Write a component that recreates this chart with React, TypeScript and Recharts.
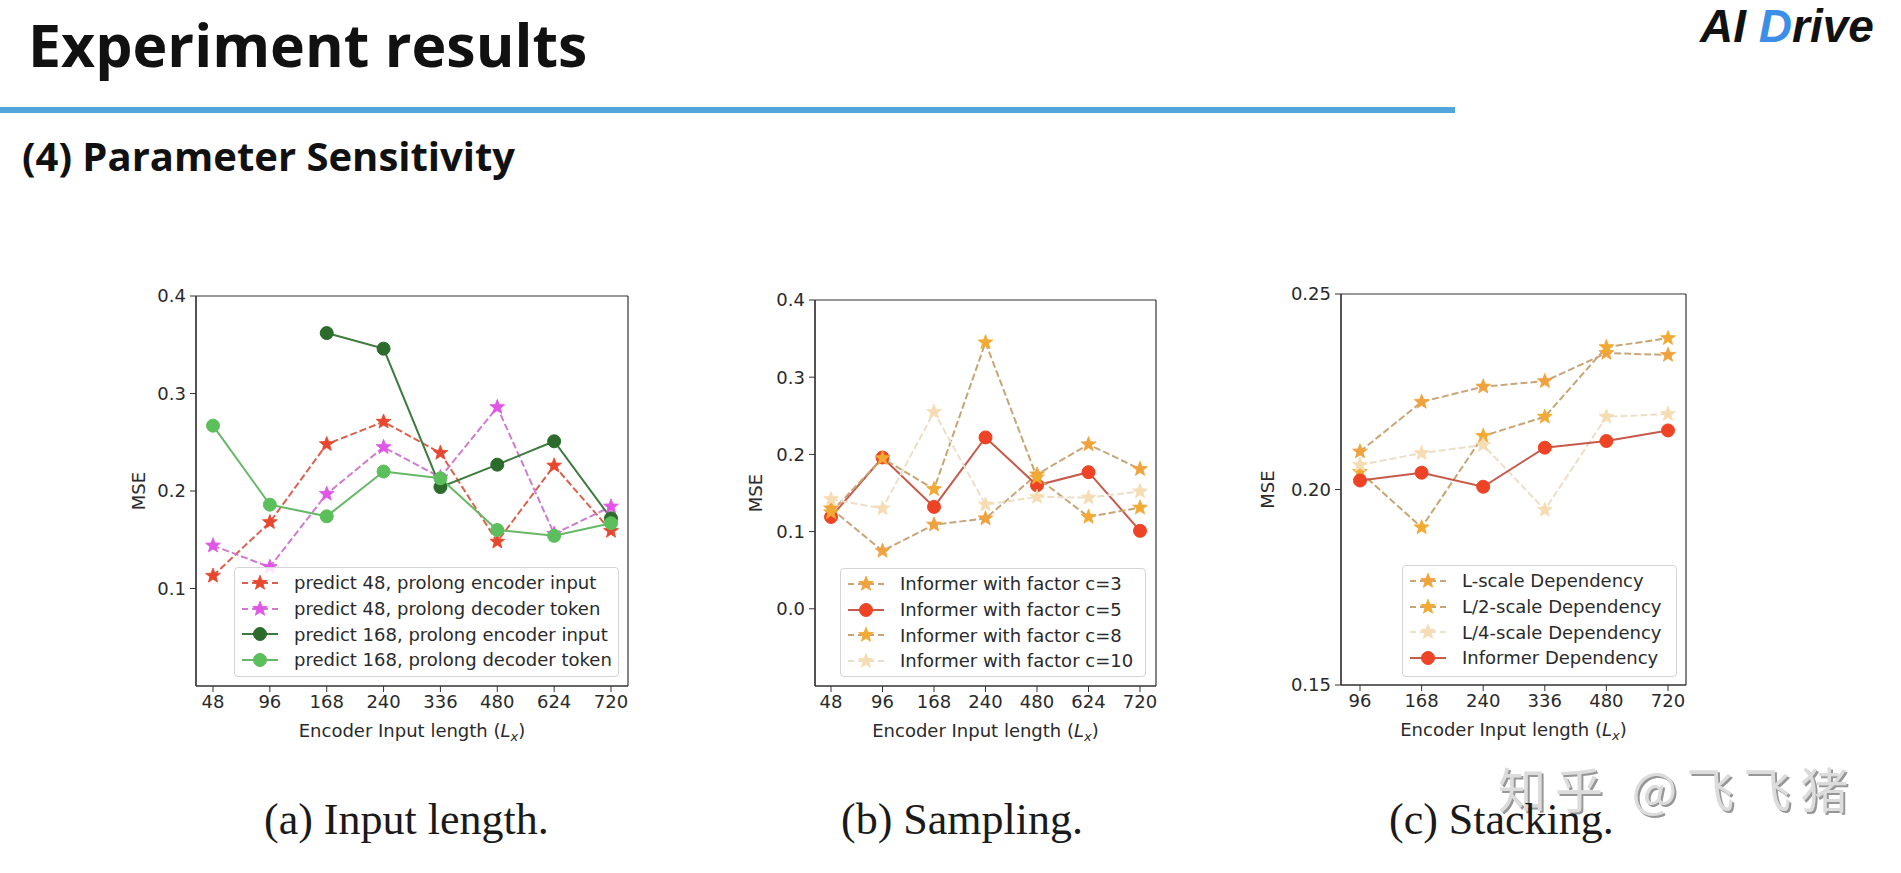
import { CartesianGrid, Legend, Line, LineChart, XAxis, YAxis } from "recharts"

// ---- (a) input length ----
const inputLengths = ["48", "96", "168", "240", "336", "480", "624", "720"]
const p48Encoder = [0.113, 0.168, 0.248, 0.271, 0.239, 0.148, 0.226, 0.159]
const p48Decoder = [0.144, 0.122, 0.197, 0.245, 0.214, 0.286, 0.156, 0.184]
const p168Encoder = [null, null, 0.362, 0.346, 0.204, 0.227, 0.251, 0.172]
const p168Decoder = [0.267, 0.186, 0.174, 0.22, 0.213, 0.16, 0.154, 0.167]
const inputTicks = [0.1, 0.2, 0.3, 0.4]

// ---- (b) sampling factor ----
const samplingLengths = ["48", "96", "168", "240", "480", "624", "720"]
const factor3 = [0.13, 0.075, 0.109, 0.117, 0.174, 0.213, 0.181]
const factor5 = [0.119, 0.196, 0.132, 0.222, 0.16, 0.177, 0.101]
const factor8 = [0.125, 0.195, 0.155, 0.345, 0.17, 0.119, 0.131]
const factor10 = [0.142, 0.13, 0.255, 0.135, 0.145, 0.144, 0.152]
const samplingTicks = [0, 0.1, 0.2, 0.3, 0.4]

// ---- (c) stacking ----
const stackLengths = ["96", "168", "240", "336", "480", "720"]
const lScale = [0.2097, 0.2224, 0.2263, 0.2277, 0.2349, 0.2344]
const l2Scale = [0.2045, 0.1903, 0.2137, 0.2186, 0.2364, 0.2387]
const l4Scale = [0.2063, 0.2093, 0.2114, 0.1948, 0.2186, 0.2193]
const informerDep = [0.2023, 0.2043, 0.2007, 0.2107, 0.2124, 0.2151]
const stackTicks = [0.15, 0.2, 0.25]

const FONT = "'DejaVu Sans', sans-serif"
const INK = "#2a2a2a"
const DASH = "7 3"
const X_AXIS_HEIGHT = 60

type Marker = "star" | "circle"

interface Series {
  key: string
  label: string
  values: (number | null)[]
  marker: Marker
  fill: string
  stroke: string
  dashed: boolean
}

const inputSeries: Series[] = [
  { key: "p48e", label: "predict 48, prolong encoder input", values: p48Encoder, marker: "star", fill: "#e8472f", stroke: "#dd604e", dashed: true },
  { key: "p48d", label: "predict 48, prolong decoder token", values: p48Decoder, marker: "star", fill: "#e055e6", stroke: "#cf7ccf", dashed: true },
  { key: "p168e", label: "predict 168, prolong encoder input", values: p168Encoder, marker: "circle", fill: "#2c6b2c", stroke: "#3d7a3d", dashed: false },
  { key: "p168d", label: "predict 168, prolong decoder token", values: p168Decoder, marker: "circle", fill: "#5bbf5b", stroke: "#66b866", dashed: false },
]

const samplingSeries: Series[] = [
  { key: "c3", label: "Informer with factor c=3", values: factor3, marker: "star", fill: "#f0a23c", stroke: "#c9a57a", dashed: true },
  { key: "c5", label: "Informer with factor c=5", values: factor5, marker: "circle", fill: "#ee4325", stroke: "#c85a4c", dashed: false },
  { key: "c8", label: "Informer with factor c=8", values: factor8, marker: "star", fill: "#f2aa32", stroke: "#c8a472", dashed: true },
  { key: "c10", label: "Informer with factor c=10", values: factor10, marker: "star", fill: "#f6dcb2", stroke: "#ecdfc8", dashed: true },
]

const stackSeries: Series[] = [
  { key: "l1", label: "L-scale Dependency", values: lScale, marker: "star", fill: "#f0a23c", stroke: "#c9a57a", dashed: true },
  { key: "l2", label: "L/2-scale Dependency", values: l2Scale, marker: "star", fill: "#f2aa32", stroke: "#c8a472", dashed: true },
  { key: "l4", label: "L/4-scale Dependency", values: l4Scale, marker: "star", fill: "#f6dcb2", stroke: "#ecdfc8", dashed: true },
  { key: "inf", label: "Informer Dependency", values: informerDep, marker: "circle", fill: "#ee4325", stroke: "#c85a4c", dashed: false },
]

function starPath(cx: number, cy: number, R: number, r: number) {
  let d = ""
  for (let i = 0; i < 10; i++) {
    const rad = i % 2 === 0 ? R : r
    const a = -Math.PI / 2 + (i * Math.PI) / 5
    d += (i === 0 ? "M" : "L") + (cx + rad * Math.cos(a)).toFixed(2) + "," + (cy + rad * Math.sin(a)).toFixed(2)
  }
  return d + "Z"
}

function MarkerShape({ kind, cx, cy, fill }: { kind: Marker; cx: number; cy: number; fill: string }) {
  if (kind === "circle") return <circle cx={cx} cy={cy} r={6.5} fill={fill} stroke={fill} strokeWidth={1} />
  return <path d={starPath(cx, cy, 7.8, 3.3)} fill={fill} stroke={fill} strokeWidth={0.8} strokeLinejoin="round" />
}

function dotFor(s: Series) {
  return (props: any) => {
    const { cx, cy, index, value } = props
    const k = `${s.key}-${index}`
    if (value == null || cx == null || cy == null || Number.isNaN(cy)) return <g key={k} />
    return <MarkerShape key={k} kind={s.marker} cx={cx} cy={cy} fill={s.fill} />
  }
}

function LegendBox({ series, width, height }: { series: Series[]; width: number; height: number }) {
  return (
    <div
      style={{
        width,
        height,
        boxSizing: "border-box",
        border: "1px solid #d4d4d4",
        borderRadius: 4,
        background: "rgba(255,255,255,0.85)",
        paddingTop: 2,
        fontFamily: FONT,
        fontSize: 18,
        color: INK,
      }}
    >
      {series.map((s) => (
        <div key={s.key} style={{ height: 25.7, display: "flex", alignItems: "center", whiteSpace: "nowrap" }}>
          <svg width={36} height={16} style={{ marginLeft: 7, marginRight: 16, flex: "none" }}>
            <line x1={0} y1={8} x2={36} y2={8} stroke={s.stroke} strokeWidth={2} strokeDasharray={s.dashed ? "6 4" : undefined} />
            <MarkerShape kind={s.marker} cx={18} cy={8} fill={s.fill} />
          </svg>
          <span>{s.label}</span>
        </div>
      ))}
    </div>
  )
}

interface PanelProps {
  left: number
  top: number
  width: number
  height: number
  margin: { top: number; right: number; bottom: number; left: number }
  yWidth: number
  categories: string[]
  series: Series[]
  domain: [number, number]
  ticks: number[]
  digits: number
  pad: { left: number; right: number }
  legend: { left: number; top: number; width: number; height: number }
  msePos: number
}

function Panel(p: PanelProps) {
  const rows = p.categories.map((c, i) => {
    const row: Record<string, string | number | null> = { x: c }
    for (const s of p.series) row[s.key] = s.values[i]
    return row
  })
  const tick = { fontSize: 18, fill: INK, fontFamily: FONT }
  const axisLine = { stroke: "#333", strokeWidth: 1.2 }

  // outer frame of the plot area (matplotlib-style box)
  const plotTop = p.margin.top
  const plotBottom = p.height - p.margin.bottom - X_AXIS_HEIGHT
  const plotLeft = p.margin.left + p.yWidth
  const plotRight = p.width - p.margin.right

  return (
    <div style={{ position: "absolute", left: p.left, top: p.top }}>
      <LineChart width={p.width} height={p.height} data={rows} margin={p.margin}>
        <CartesianGrid
          stroke="#333"
          strokeWidth={1.2}
          horizontalPoints={[plotTop, plotBottom]}
          verticalPoints={[plotLeft, plotRight]}
        />
        <XAxis
          dataKey="x"
          type="category"
          interval={0}
          padding={p.pad}
          height={X_AXIS_HEIGHT}
          tick={tick}
          tickSize={6}
          tickMargin={3}
          tickLine={{ stroke: "#333" }}
          axisLine={axisLine}
          label={{
            content: (lp: any) => {
              const vb = lp.viewBox
              const cx = vb.x + vb.width / 2
              const y = vb.y + 51
              return (
                <text x={cx} y={y} textAnchor="middle" fontFamily={FONT} fontSize={18} fill={INK}>
                  Encoder Input length (<tspan fontStyle="italic">L</tspan>
                  <tspan fontStyle="italic" fontSize={13} dy={4}>x</tspan>
                  <tspan dy={-4}>)</tspan>
                </text>
              )
            },
          }}
        />
        <YAxis
          type="number"
          domain={p.domain}
          ticks={p.ticks}
          allowDataOverflow
          width={p.yWidth}
          tick={tick}
          tickSize={6}
          tickMargin={4}
          tickLine={{ stroke: "#333" }}
          axisLine={axisLine}
          tickFormatter={(v: number) => v.toFixed(p.digits)}
          label={{
            content: (lp: any) => {
              const vb = lp.viewBox
              const cx = vb.x + vb.width - p.msePos
              const cy = vb.y + vb.height / 2
              return (
                <text x={cx} y={cy} transform={`rotate(-90, ${cx}, ${cy})`} textAnchor="middle" dominantBaseline="central" fontFamily={FONT} fontSize={18} fill={INK}>
                  MSE
                </text>
              )
            },
          }}
        />
        {p.series.map((s) => (
          <Line
            key={s.key}
            dataKey={s.key}
            type="linear"
            stroke={s.stroke}
            strokeWidth={2}
            strokeDasharray={s.dashed ? DASH : undefined}
            dot={dotFor(s)}
            activeDot={false}
            connectNulls={false}
            isAnimationActive={false}
          />
        ))}
        <Legend
          layout="vertical"
          align="center"
          verticalAlign="middle"
          wrapperStyle={{ left: p.legend.left, top: p.legend.top, width: p.legend.width, height: p.legend.height }}
          content={() => <LegendBox series={p.series} width={p.legend.width} height={p.legend.height} />}
        />
      </LineChart>
    </div>
  )
}

function SlideDecor() {
  return (
    <svg width={1901} height={873} style={{ position: "absolute", left: 0, top: 0 }}>
      <defs>
        <filter id="wm-shadow" x="-5%" y="-20%" width="110%" height="140%">
          <feDropShadow dx={2} dy={2} stdDeviation={0.6} floodColor="#8c8c8c" floodOpacity={0.9} />
        </filter>
      </defs>
      <text x={28} y={67} fontFamily="'Open Sans', sans-serif" fontWeight={700} fontSize={59} fill="#111">
        Experiment results
      </text>
      <text x={1700} y={42} fontFamily="'Liberation Sans', sans-serif" fontWeight={700} fontStyle="italic" fontSize={46} fill="#111">
        AI <tspan fill="#3b8fe8">D</tspan>rive
      </text>
      <rect x={0} y={107} width={1455} height={6} fill="#52a6dc" />
      <text x={22} y={171} fontFamily="'Open Sans', sans-serif" fontWeight={700} fontSize={40} fill="#111">
        (4) Parameter Sensitivity
      </text>
      <text x={1498} y={808} fontFamily="'Noto Sans CJK SC', sans-serif" fontSize={48} letterSpacing={9} fill="#dcdcdc" filter="url(#wm-shadow)">
        知乎 @飞飞猪
      </text>
      <g fontFamily="'Liberation Serif', serif" fontSize={44} fill="#1a1a1a">
        <text x={264} y={834}>(a) Input length.</text>
        <text x={841} y={834}>(b) Sampling.</text>
        <text x={1389} y={834}>(c) Stacking.</text>
      </g>
    </svg>
  )
}

export default function App() {
  return (
    <div style={{ position: "fixed", left: 0, top: 0, width: 1901, height: 873, background: "#fff", overflow: "hidden" }}>
      <SlideDecor />
      <Panel
        left={100}
        top={270}
        width={560}
        height={490}
        margin={{ top: 26, right: 32, bottom: 14, left: 36 }}
        yWidth={60}
        categories={inputLengths}
        series={inputSeries}
        domain={[0, 0.4]}
        ticks={inputTicks}
        digits={1}
        pad={{ left: 17, right: 17 }}
        legend={{ left: 134, top: 297, width: 385, height: 110 }}
        msePos={58}
      />
      <Panel
        left={720}
        top={270}
        width={460}
        height={490}
        margin={{ top: 30, right: 24, bottom: 14, left: 35 }}
        yWidth={60}
        categories={samplingLengths}
        series={samplingSeries}
        domain={[-0.1, 0.4]}
        ticks={samplingTicks}
        digits={1}
        pad={{ left: 16, right: 16 }}
        legend={{ left: 120, top: 298, width: 306, height: 109 }}
        msePos={60}
      />
      <Panel
        left={1240}
        top={270}
        width={470}
        height={490}
        margin={{ top: 24, right: 24, bottom: 15, left: 31 }}
        yWidth={70}
        categories={stackLengths}
        series={stackSeries}
        domain={[0.15, 0.25]}
        ticks={stackTicks}
        digits={2}
        pad={{ left: 19, right: 18 }}
        legend={{ left: 162, top: 295, width: 275, height: 112 }}
        msePos={74}
      />
    </div>
  )
}
